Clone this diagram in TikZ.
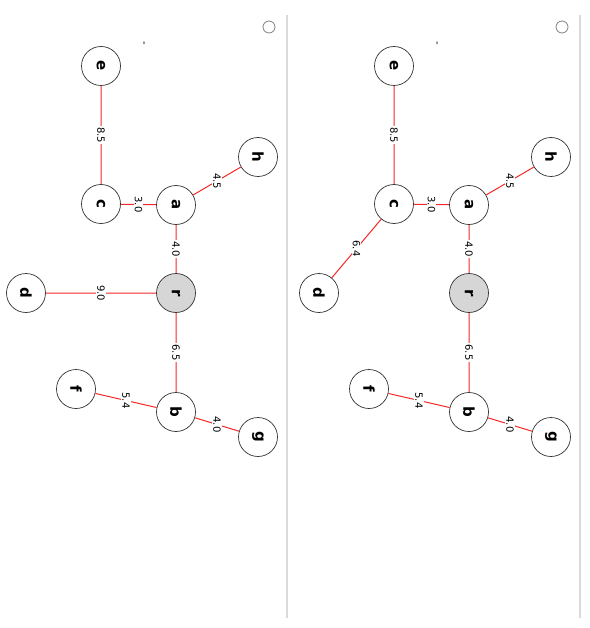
\documentclass[tikz,border=0pt]{standalone}
\usepackage{fontspec}
\setmainfont{DejaVu Sans}
\usetikzlibrary{shapes,arrows}
\definecolor{edgered}{RGB}{245,40,40}
\definecolor{rootgray}{RGB}{214,214,214}
\definecolor{rulegray}{RGB}{218,218,218}
\tikzstyle{vertex} = [draw=black!80, fill=white, circle, line width=0.7pt,
minimum size=39pt, inner sep=0pt, rotate=-90, font=\fontsize{15}{15}\selectfont\bfseries]
\tikzstyle{root} = [vertex, fill=rootgray]
\tikzstyle{edge} = [draw=edgered, line width=1pt]
\tikzstyle{weight} = [fill=white, inner sep=1.2pt, rotate=-90,
font=\fontsize{10}{10}\selectfont]
\tikzstyle{radio} = [draw=black!50, circle, line width=0.8pt,
minimum size=12pt, inner sep=0pt]
\tikzstyle{divider} = [draw=rulegray, line width=1.2pt]

\begin{document}
\begin{tikzpicture}[x=1pt, y=-1pt]
	\useasboundingbox (0,0) rectangle (589,628);

	% left tree
	\node [vertex] (e1) at (101,66) {e};
	\node [vertex] (c1) at (101,204) {c};
	\node [vertex] (a1) at (176,205) {a};
	\node [vertex] (h1) at (258,157) {h};
	\node [root] (r1) at (176,293) {r};
	\node [vertex] (d1) at (26,293) {d};
	\node [vertex] (b1) at (176,412) {b};
	\node [vertex] (f1) at (76,389) {f};
	\node [vertex] (g1) at (258,437) {g};
	\node [radio] (radio1) at (269,27) {};
	\node [rotate=-90, font=\fontsize{10}{10}\selectfont] (tick1) at (143,43) {-};

	\draw [edge] (e1) -- node[weight] {8.5} (c1)
		(c1) -- node[weight] {3.0} (a1)
		(a1) -- node[weight] {4.5} (h1)
		(a1) -- node[weight] {4.0} (r1)
		(r1) -- node[weight] {9.0} (d1)
		(r1) -- node[weight] {6.5} (b1)
		(b1) -- node[weight] {5.4} (f1)
		(b1) -- node[weight] {4.0} (g1);

	\draw [divider] (287,15) -- (287,618);

	% right tree
	\node [vertex] (e2) at (394,66) {e};
	\node [vertex] (c2) at (394,204) {c};
	\node [vertex] (a2) at (469,205) {a};
	\node [vertex] (h2) at (551,157) {h};
	\node [root] (r2) at (469,293) {r};
	\node [vertex] (d2) at (319,293) {d};
	\node [vertex] (b2) at (469,412) {b};
	\node [vertex] (f2) at (369,389) {f};
	\node [vertex] (g2) at (551,437) {g};
	\node [radio] (radio2) at (562,27) {};
	\node [rotate=-90, font=\fontsize{10}{10}\selectfont] (tick2) at (436,43) {-};

	\draw [edge] (e2) -- node[weight] {8.5} (c2)
		(c2) -- node[weight] {3.0} (a2)
		(a2) -- node[weight] {4.5} (h2)
		(a2) -- node[weight] {4.0} (r2)
		(c2) -- node[weight] {6.4} (d2)
		(r2) -- node[weight] {6.5} (b2)
		(b2) -- node[weight] {5.4} (f2)
		(b2) -- node[weight] {4.0} (g2);

	\draw [divider] (580,15) -- (580,618);

\end{tikzpicture}
\end{document}
